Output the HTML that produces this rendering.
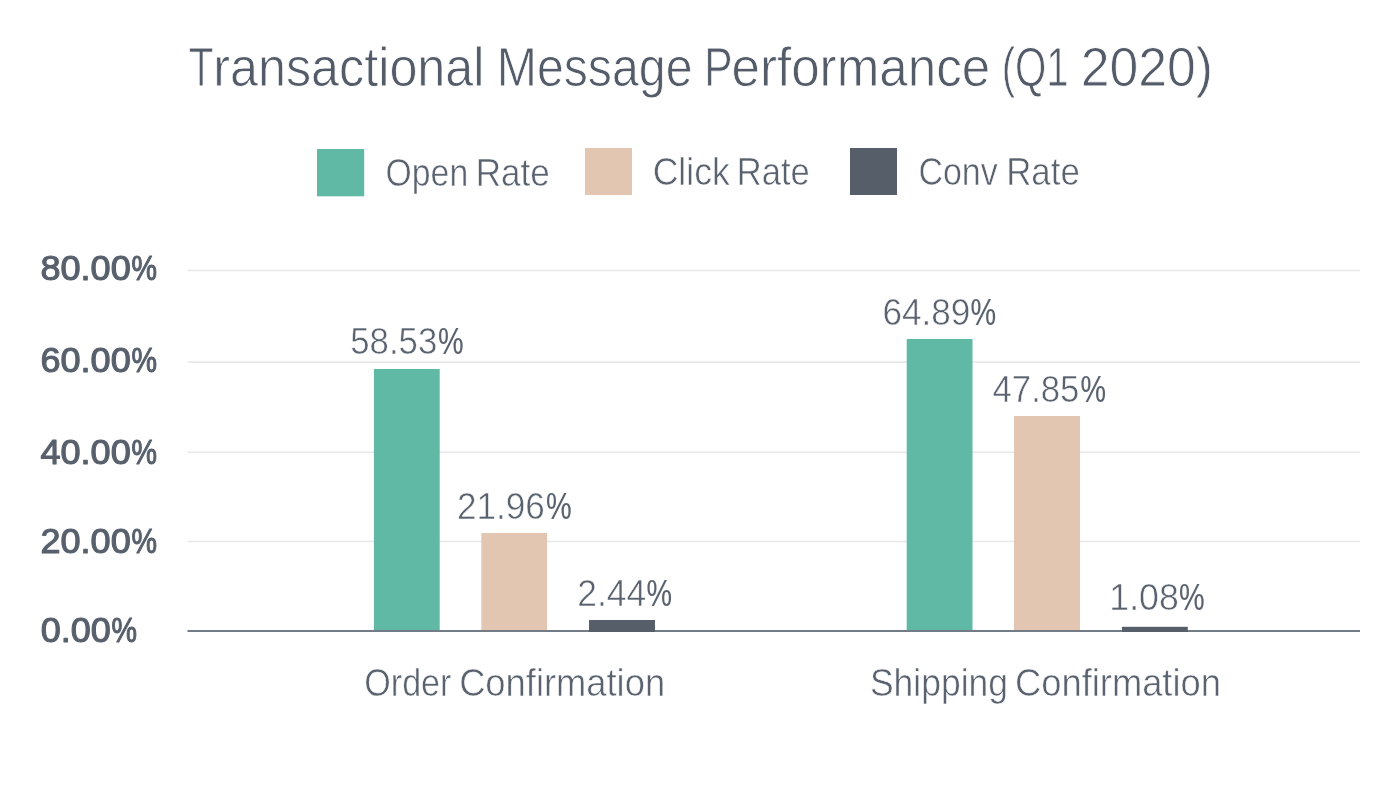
<!DOCTYPE html>
<html>
<head>
<meta charset="utf-8">
<title>Transactional Message Performance (Q1 2020)</title>
<style>
  html, body { margin: 0; padding: 0; background: #ffffff; }
  body { width: 1400px; height: 804px; overflow: hidden; font-family: "Liberation Sans", sans-serif; }
  svg { display: block; will-change: transform; }
  text { font-family: "Liberation Sans", sans-serif; }
  .title { font-size: 56.4px; fill: #545c69; stroke: #ffffff; stroke-width: 0.85px; }
  .light { font-size: 37px; fill: #59626e; stroke: #ffffff; stroke-width: 0.55px; }
  .lab   { font-size: 37.9px; fill: #59626e; stroke: #ffffff; stroke-width: 0.55px; }
  .pct   { font-size: 36.4px; fill: #59626e; stroke: #59626e; stroke-width: 0.15px; }
  .axis  { font-size: 35.3px; fill: #57606c; stroke: #57606c; stroke-width: 1.1px; stroke-linejoin: round; }
</style>
</head>
<body>
<svg width="1400" height="804" viewBox="0 0 1400 804">
  <rect x="0" y="0" width="1400" height="804" fill="#ffffff"/>

  <!-- title -->
  <text id="t_w1a" class="title" x="188.81" y="86" textLength="24.78" lengthAdjust="spacingAndGlyphs">T</text>
  <text id="t_w1b" class="title" x="213.2" y="86" textLength="271.34" lengthAdjust="spacingAndGlyphs">ransactional</text>
  <text id="t_w2" class="title" x="496.69" y="86" textLength="195.84" lengthAdjust="spacingAndGlyphs">Message</text>
  <text id="t_w3a" class="title" x="704.21" y="86" textLength="28.32" lengthAdjust="spacingAndGlyphs">P</text>
  <text id="t_w3b" class="title" x="731.49" y="86" textLength="258.66" lengthAdjust="spacingAndGlyphs">erformance</text>
  <text id="t_w4" class="title" x="1001.66" y="86" textLength="67.08" lengthAdjust="spacingAndGlyphs">(Q1</text>
  <text id="t_w5" class="title" x="1080.65" y="86" textLength="132.45" lengthAdjust="spacingAndGlyphs">2020)</text>

  <!-- legend -->
  <rect x="317" y="149" width="47.2" height="47.3" fill="#5fb9a5"/>
  <text id="t_open1" class="lab" x="385.59" y="186" textLength="82.59" lengthAdjust="spacingAndGlyphs">Open</text>
  <text id="t_open2" class="lab" x="475.71" y="186" textLength="74.09" lengthAdjust="spacingAndGlyphs">Rate</text>
  <rect x="585" y="148" width="47" height="47" fill="#e3c6b1"/>
  <text id="t_click1" class="lab" x="652.66" y="184.8" textLength="77.1" lengthAdjust="spacingAndGlyphs">Click</text>
  <text id="t_click2" class="lab" x="736.75" y="184.8" textLength="73.02" lengthAdjust="spacingAndGlyphs">Rate</text>
  <rect x="850" y="148" width="47" height="47" fill="#565e6a"/>
  <text id="t_conv1" class="lab" x="918.46" y="185" textLength="79.3" lengthAdjust="spacingAndGlyphs">Conv</text>
  <text id="t_conv2" class="lab" x="1006.19" y="185" textLength="73.62" lengthAdjust="spacingAndGlyphs">Rate</text>

  <!-- grid lines -->
  <g stroke="#e6e8ea" stroke-width="1.6">
    <line x1="187.5" x2="1360" y1="270.5" y2="270.5"/>
    <line x1="187.5" x2="1360" y1="362.1" y2="362.1"/>
    <line x1="187.5" x2="1360" y1="452.2" y2="452.2"/>
    <line x1="187.5" x2="1360" y1="541.5" y2="541.5"/>
  </g>

  <!-- y axis labels -->
  <text id="t_y80d" class="axis" x="40.41" y="280.1" textLength="90.34" lengthAdjust="spacingAndGlyphs">80.00</text>
  <text id="t_y80p" class="axis" x="131.53" y="280.1" textLength="25.5" lengthAdjust="spacingAndGlyphs">%</text>
  <text id="t_y60d" class="axis" x="40.41" y="372.4" textLength="90.34" lengthAdjust="spacingAndGlyphs">60.00</text>
  <text id="t_y60p" class="axis" x="131.53" y="372.4" textLength="25.5" lengthAdjust="spacingAndGlyphs">%</text>
  <text id="t_y40d" class="axis" x="40.41" y="463.9" textLength="90.34" lengthAdjust="spacingAndGlyphs">40.00</text>
  <text id="t_y40p" class="axis" x="131.53" y="463.9" textLength="25.5" lengthAdjust="spacingAndGlyphs">%</text>
  <text id="t_y20d" class="axis" x="40.41" y="553.1" textLength="90.34" lengthAdjust="spacingAndGlyphs">20.00</text>
  <text id="t_y20p" class="axis" x="131.53" y="553.1" textLength="25.5" lengthAdjust="spacingAndGlyphs">%</text>
  <text id="t_y0d" class="axis" x="40.66" y="641.7" textLength="70.08" lengthAdjust="spacingAndGlyphs">0.00</text>
  <text id="t_y0p" class="axis" x="111.53" y="641.7" textLength="25.5" lengthAdjust="spacingAndGlyphs">%</text>

  <!-- bars (green / beige) -->
  <rect x="373.9" y="369"   width="65.8" height="263"   fill="#5fb9a5"/>
  <rect x="481.3" y="533"   width="65.8" height="99"    fill="#e3c6b1"/>
  <rect x="906.7" y="339"   width="65.8" height="293"   fill="#5fb9a5"/>
  <rect x="1014"  y="416"   width="66"   height="216"   fill="#e3c6b1"/>

  <!-- axis baseline (drawn over the light bars) -->
  <line x1="187.5" x2="1360" y1="631.05" y2="631.05" stroke="#737b87" stroke-width="2"/>

  <!-- bars (dark) -->
  <rect x="589"   y="620"   width="66"   height="12"    fill="#565e6a"/>
  <rect x="1122"  y="626.8" width="65.8" height="5.2"   fill="#565e6a"/>

  <!-- data labels -->
  <text id="t_v1d" class="light" x="350.27" y="354.2" textLength="86.96" lengthAdjust="spacingAndGlyphs">58.53</text>
  <text id="t_v1p" class="pct" x="438.06" y="354.2" textLength="25.58" lengthAdjust="spacingAndGlyphs">%</text>
  <text id="t_v2d" class="light" x="456.9" y="519.4" textLength="87.85" lengthAdjust="spacingAndGlyphs">21.96</text>
  <text id="t_v2p" class="pct" x="545.95" y="519.4" textLength="25.65" lengthAdjust="spacingAndGlyphs">%</text>
  <text id="t_v3d" class="light" x="577.27" y="606" textLength="69" lengthAdjust="spacingAndGlyphs">2.44</text>
  <text id="t_v3p" class="pct" x="646.4" y="606" textLength="25.53" lengthAdjust="spacingAndGlyphs">%</text>
  <text id="t_v4d" class="light" x="882.42" y="325.2" textLength="87.85" lengthAdjust="spacingAndGlyphs">64.89</text>
  <text id="t_v4p" class="pct" x="970.5" y="325.2" textLength="25.59" lengthAdjust="spacingAndGlyphs">%</text>
  <text id="t_v5d" class="light" x="992.56" y="402.2" textLength="86.81" lengthAdjust="spacingAndGlyphs">47.85</text>
  <text id="t_v5p" class="pct" x="1080.4" y="402.2" textLength="25.53" lengthAdjust="spacingAndGlyphs">%</text>
  <text id="t_v6d" class="light" x="1109.33" y="610.2" textLength="69.46" lengthAdjust="spacingAndGlyphs">1.08</text>
  <text id="t_v6p" class="pct" x="1178.95" y="610.2" textLength="25.6" lengthAdjust="spacingAndGlyphs">%</text>

  <!-- category labels -->
  <text id="t_c1a" class="lab" x="364.24" y="696.0" textLength="87.21" lengthAdjust="spacingAndGlyphs">Order</text>
  <text id="t_c1b" class="lab" x="459.13" y="696.0" textLength="206" lengthAdjust="spacingAndGlyphs">Confirmation</text>
  <text id="t_c2a" class="lab" x="869.97" y="696.3" textLength="138.03" lengthAdjust="spacingAndGlyphs">Shipping</text>
  <text id="t_c2b" class="lab" x="1014.97" y="696.3" textLength="206" lengthAdjust="spacingAndGlyphs">Confirmation</text>
</svg>
</body>
</html>
